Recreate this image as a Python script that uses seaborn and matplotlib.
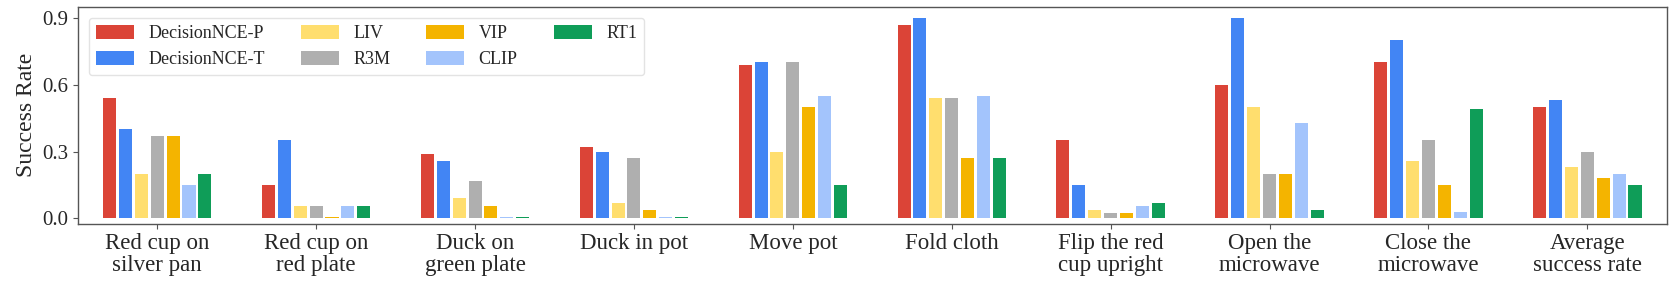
import matplotlib
matplotlib.use('Agg')
import matplotlib.pyplot as plt
import seaborn as sns
import pandas as pd

# task names (x axis)
tasks = [
    'Red cup on\nsilver pan', 'Red cup on\nred plate', 'Duck on\ngreen plate',
    'Duck in pot', 'Move pot', 'Fold cloth', 'Flip the red\ncup upright',
    'Open the\nmicrowave', 'Close the\nmicrowave', 'Average\nsuccess rate',
]
models = ['DecisionNCE-P', 'DecisionNCE-T', 'LIV', 'R3M', 'VIP', 'CLIP', 'RT1']

# success rates per model
decisionnce_p = [0.54, 0.15, 0.29, 0.32, 0.69, 0.87, 0.35, 0.60, 0.70, 0.50]
decisionnce_t = [0.40, 0.35, 0.26, 0.30, 0.70, 0.90, 0.15, 0.90, 0.80, 0.53]
liv = [0.20, 0.055, 0.09, 0.07, 0.30, 0.54, 0.04, 0.50, 0.26, 0.23]
r3m = [0.37, 0.055, 0.17, 0.27, 0.70, 0.54, 0.025, 0.20, 0.35, 0.30]
vip = [0.37, 0.006, 0.055, 0.04, 0.50, 0.27, 0.025, 0.20, 0.15, 0.18]
clip = [0.15, 0.055, 0.006, 0.006, 0.55, 0.55, 0.055, 0.43, 0.03, 0.20]
rt1 = [0.20, 0.055, 0.006, 0.006, 0.15, 0.27, 0.07, 0.04, 0.49, 0.15]

palette = ['#DB4437', '#4285F4', '#FFDE6E', '#AFAFAF', '#F4B400', '#A3C4FC', '#0F9D58']

series = [decisionnce_p, decisionnce_t, liv, r3m, vip, clip, rt1]
rows = []
for m, vals in zip(models, series):
    for t, v in zip(tasks, vals):
        rows.append({'task': t, 'model': m, 'rate': v})
df = pd.DataFrame(rows)

sns.set_style('white')
plt.rcParams['font.family'] = ['Liberation Serif', 'DejaVu Serif']

fig, ax = plt.subplots(figsize=(16.76, 3.04), dpi=100)
fig.subplots_adjust(left=0.0464, right=0.9945, top=0.978, bottom=0.263)

sns.barplot(data=df, x='task', y='rate', hue='model', order=tasks, hue_order=models,
            palette=palette, width=0.7, gap=0.18, linewidth=0, saturation=1, ax=ax)

ax.set_xlim(-0.5, len(tasks) - 0.5)
ax.set_ylim(-0.025, 0.95)
ax.set_yticks([0.0, 0.3, 0.6, 0.9])
ax.set_yticklabels(['0.0', '0.3', '0.6', '0.9'])
ax.set_xlabel('')
ax.set_ylabel('Success Rate', fontsize=17, labelpad=4)

ax.tick_params(axis='y', labelsize=15, length=3.5, width=0.8, color='#555555', left=True, pad=3)
ax.tick_params(axis='x', labelsize=16.5, length=3.5, width=0.8, color='#555555', bottom=True, pad=3)
for lbl in ax.get_xticklabels():
    lbl.set_linespacing(1.05)

for s in ax.spines.values():
    s.set_color('#555555')
    s.set_linewidth(1.0)

ax.legend(ncol=4, loc='upper left', fontsize=13, frameon=True, fancybox=True,
          edgecolor='#dddddd', handlelength=2.1, handleheight=0.8,
          borderaxespad=0.6, title=None)

fig.savefig('out.png', dpi=100)
